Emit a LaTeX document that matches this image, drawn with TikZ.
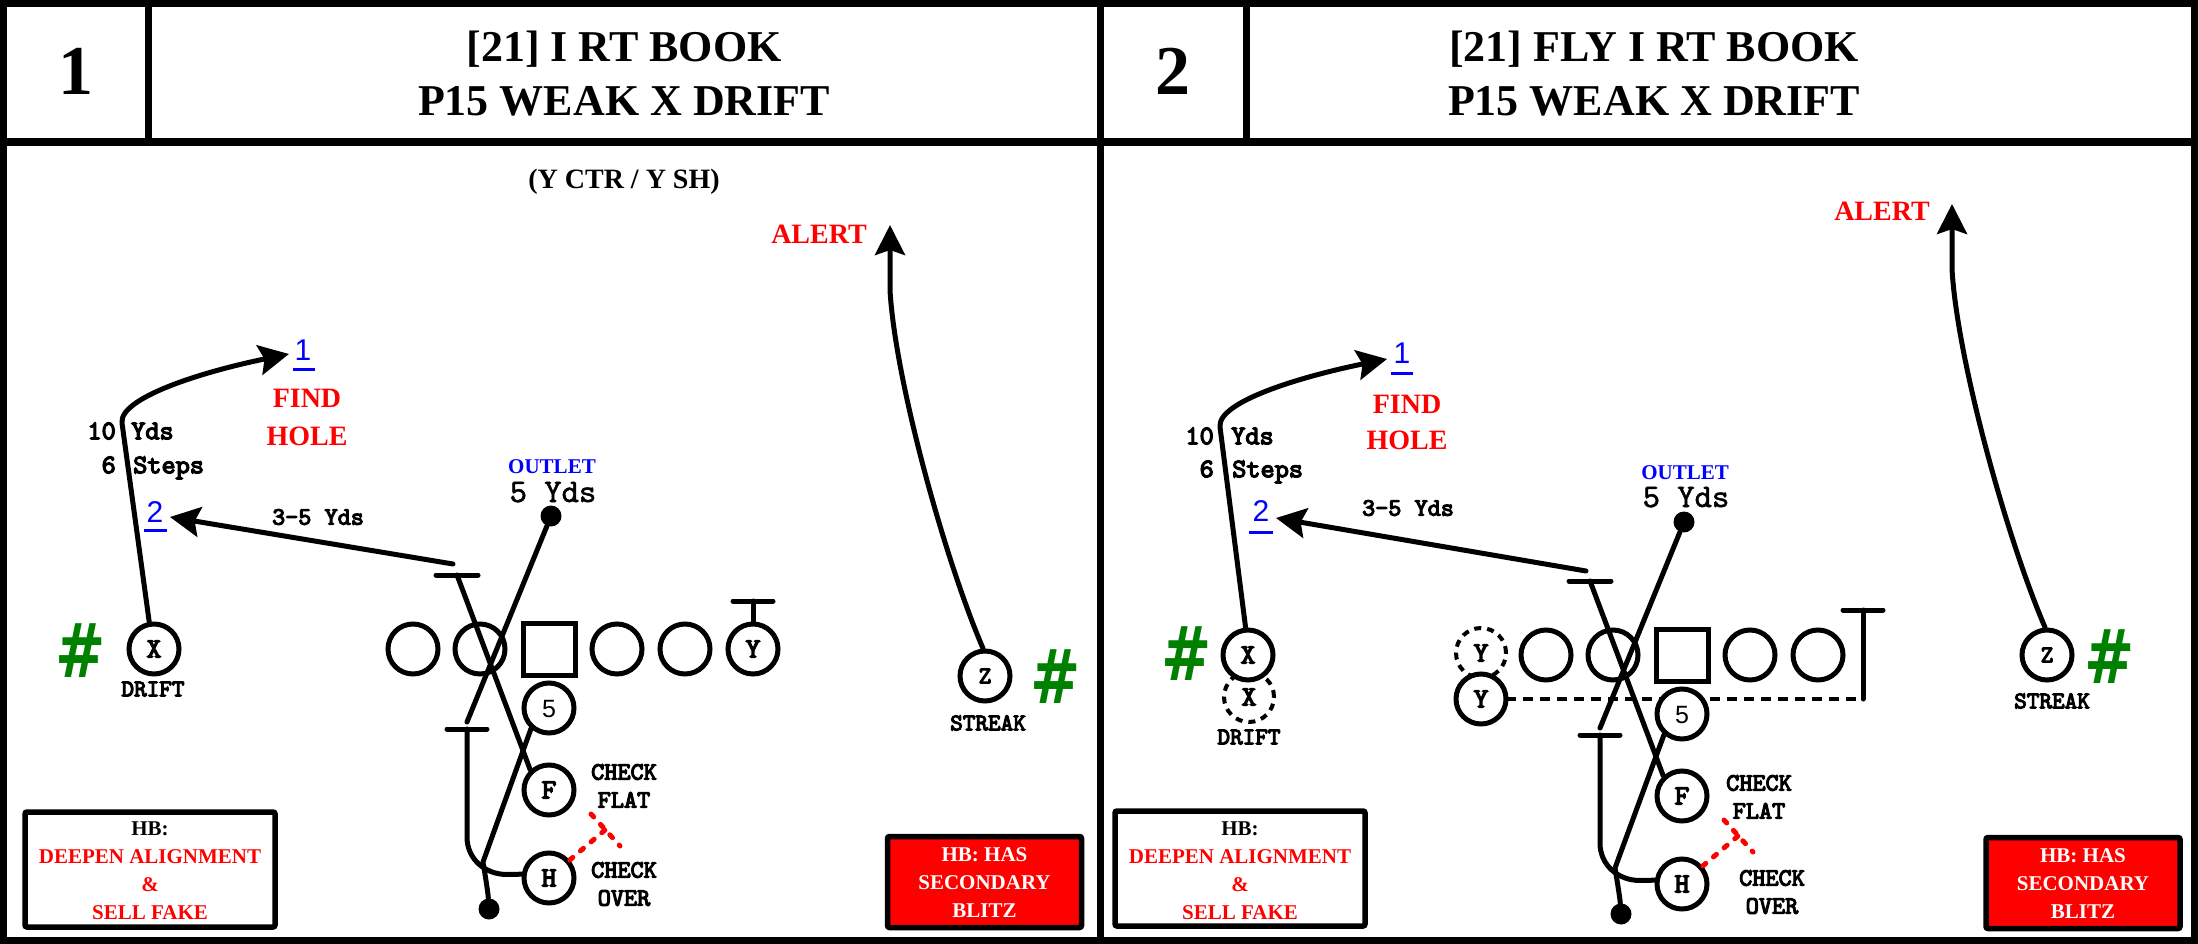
\documentclass[tikz,border=0pt]{standalone}
\usepackage{fontspec}
\usepackage{graphicx}
\setmainfont{Liberation Serif}
\newfontfamily\sansf{Liberation Sans}
\newfontfamily\hashf{DejaVu Sans}
\newfontfamily\monob[FakeBold=4.5]{lmmono10-regular.otf}
\newfontfamily\monom[FakeBold=1.5]{lmmono10-regular.otf}
\usetikzlibrary{arrows.meta}
\definecolor{hgreen}{RGB}{0,128,0}
\definecolor{hred}{RGB}{255,0,0}
\definecolor{hblue}{RGB}{0,0,255}
\newcommand{\fsz}[1]{\fontsize{#1}{#1}\selectfont}
\newcommand{\hashmark}{\scalebox{0.8}[1]{\#}}
\tikzset{
  plyr/.style={circle, draw, line width=5pt, fill=white, minimum size=50pt, inner sep=0pt, font=\monob\fsz{28}, text height=17pt, text depth=0pt},
  dplyr/.style={plyr, line width=4pt, dash pattern=on 7pt off 6pt},
  oline/.style={circle, draw, line width=5pt, fill=white, minimum size=50pt, inner sep=0pt},
  ctrsq/.style={rectangle, draw, line width=5pt, fill=white, minimum size=52pt, inner sep=0pt},
  qbst/.style={plyr, font=\sansf\fsz{25}, text height=18pt},
  zst/.style={plyr, font=\monob\fsz{24}, text height=14.6pt},
  dotst/.style={circle, fill=black, minimum size=21pt, inner sep=0pt},
  route/.style={line width=5pt, line cap=round, line join=round},
  arr/.style={-{Stealth[length=30pt,width=30pt,inset=5pt]}},
  motion/.style={line width=4.5pt, dash pattern=on 10pt off 7pt},
  reddash/.style={line width=5pt, hred, line cap=round, dash pattern=on 4pt off 10pt},
  tbar/.style={line width=5pt, line cap=round},
  ttl/.style={inner sep=0pt, font=\bfseries\fsz{44}, text height=29pt, text depth=0pt},
  hnum/.style={inner sep=0pt, font=\bfseries\fsz{70}, text height=47pt, text depth=0pt},
  sbig/.style={inner sep=0pt, font=\bfseries\fsz{28}, text height=18.5pt, text depth=0pt},
  ssm/.style={inner sep=0pt, font=\bfseries\fsz{21}, text height=14pt, text depth=0pt},
  mlab/.style={inner sep=0pt, font=\monob\fsz{25}, text height=15.3pt, text depth=0pt},
  mmid/.style={inner sep=0pt, font=\monob\fsz{27}, text height=16.5pt, text depth=0pt},
  msm/.style={inner sep=0pt, font=\monob\fsz{24}, text height=14.6pt, text depth=0pt},
  myds/.style={inner sep=0pt, font=\monom\fsz{33}, text height=20pt, text depth=0pt},
  bnum/.style={inner sep=0pt, font=\sansf\fsz{30}, text height=21.5pt, text depth=0pt, text=hblue},
  hashst/.style={inner sep=0pt, font=\hashf\bfseries\fsz{75}, text height=54pt, text depth=0pt, text=hgreen},
  wbox/.style={draw, line width=5.5pt, fill=white, rounded corners=2pt, minimum width=250pt, minimum height=115pt, inner sep=0pt},
  rbox/.style={draw, line width=5.5pt, fill=hred, rounded corners=2pt, minimum width=194pt, minimum height=91pt, inner sep=0pt},
  uline/.style={hblue, line width=3pt}
}
\begin{document}
\begin{tikzpicture}[x=1pt, y=-1pt]
\useasboundingbox (0,0) rectangle (2198,944);
\fill[white] (0,0) rectangle (2198,944);
% ---------- frame ----------
\draw[line width=7pt] (3.5,3.5) rectangle (2194.5,940.5);
\draw[line width=8pt] (0,142) -- (2198,142);
\draw[line width=7pt] (1100,0) -- (1100,944);
\draw[line width=7pt] (148,0) -- (148,142);
\draw[line width=7pt] (1246,0) -- (1246,142);
% ---------- headers ----------
\node[hnum] (num1) at (76,71) {1};
\node[ttl] (t1a) at (624,47) {[21] I RT BOOK};
\node[ttl] (t1b) at (624,101) {P15 WEAK X DRIFT};
\node[hnum] (num2) at (1173,71) {2};
\node[ttl] (t2a) at (1654,47) {[21] FLY I RT BOOK};
\node[ttl] (t2b) at (1654,101) {P15 WEAK X DRIFT};

% ================= PANEL 1 =================
\node[sbig] (ysh) at (624,179) {(Y CTR / Y SH)};
\node[oline] (l1) at (413,649) {};
\node[oline] (l2) at (480,649) {};
\node[ctrsq] (c1) at (549,649) {};
\node[oline] (l4) at (617,649) {};
\node[oline] (l5) at (685,649) {};
\node[plyr] (y1) at (753,649) {Y};
\node[qbst] (qb1) at (549,708) {5};
\node[plyr] (f1) at (549,790) {F};
\node[plyr] (h1) at (549,878) {H};
\node[plyr] (x1) at (154,649) {X};
\node[zst] (z1) at (985,676) {Z};
\node[dotst] (da1) at (551,516) {};
\node[dotst] (db1) at (489,909) {};

% X route
\coordinate (xb1) at (122,423);
\coordinate (xe1) at (289,354);
\draw[route,arr] (x1.100) -- (xb1) .. controls (119,398) and (201,372) .. (xe1);
% 3-5 yds arrow
\coordinate (as1) at (453,564);
\coordinate (ae1) at (170,517);
\draw[route,arr] (as1) -- (ae1);
% F route
\coordinate (fT1) at (457,575);
\draw[route] (fT1) -- (f1.133);
\draw[tbar] ([xshift=-21pt]fT1) -- ([xshift=21pt]fT1);
% H route
\coordinate (hT1) at (467,729);
\coordinate (hc1) at (467,837);
\draw[route] (h1.172) -- (507,874.5) .. controls (485,874.5) and (467,859) .. (hc1) -- (hT1);
\draw[tbar] ([xshift=-20pt]hT1) -- ([xshift=20pt]hT1);
% outlet line
\coordinate (dl1) at (467,722);
\draw[route] (da1) -- (dl1);
% QB line
\coordinate (qk1) at (483,862);
\draw[route] (qb1.229) -- (qk1) .. controls (486,880) and (488,893) .. (db1);
% Y block
\coordinate (yT1) at (753,601);
\draw[route] (y1.north) -- (yT1);
\draw[tbar] ([xshift=-20pt]yT1) -- ([xshift=20pt]yT1);
% red check
\coordinate (rs1) at (605,830);
\coordinate (ra1) at (591,814);
\coordinate (rb1) at (620,846);
\draw[reddash] (h1.41) -- (rs1);
\draw[reddash] (ra1) -- (rb1);
% Z route
\coordinate (zb1) at (890,290);
\coordinate (ze1) at (890,225);
\draw[route,arr] (z1.94) .. controls (945,560) and (895,380) .. (zb1) -- (ze1);

% labels panel 1
\node[hashst] (hs1) at (81,650) {\hashmark};
\node[msm] (dr1) at (153,689) {DRIFT};
\node[bnum] (n11) at (303,350) {1};
\draw[uline] ([xshift=-10pt,yshift=-19pt]n11.center) -- ([xshift=12pt,yshift=-19pt]n11.center);
\node[sbig, text=hred] (fd1) at (307,398) {FIND};
\node[sbig, text=hred] (hl1) at (307,436) {HOLE};
\node[mmid, anchor=east] (ten1) at (116,431) {10};
\node[mmid, anchor=west] (yd1) at (131,431) {Yds};
\node[mmid, anchor=east] (six1) at (116,465) {6};
\node[mmid, anchor=west] (st1) at (133,465) {Steps};
\node[bnum] (n21) at (155,512) {2};
\draw[uline] ([xshift=-11pt,yshift=-18pt]n21.center) -- ([xshift=12pt,yshift=-18pt]n21.center);
\node[mlab] (ty1) at (318,517) {3-5 Yds};
\node[ssm, text=hblue] (ou1) at (552,466) {OUTLET};
\node[myds] (fy1) at (553,492) {5 Yds};
\node[mlab] (ck1) at (624,772) {CHECK};
\node[mlab] (fl1) at (624,800) {FLAT};
\node[mlab] (ck2) at (624,870) {CHECK};
\node[mlab] (ov1) at (624,898) {OVER};
\node[sbig, text=hred] (al1) at (819,234) {ALERT};
\node[msm] (sk1) at (988,723) {STREAK};
\node[hashst] (hz1) at (1056,676) {\hashmark};
% boxes panel 1
\node[wbox] (wb1) at (150,869.5) {};
\node[ssm] (wb1a) at (150,828) {HB:};
\node[ssm, text=hred] (wb1b) at (150,856) {DEEPEN ALIGNMENT};
\node[ssm, text=hred] (wb1c) at (150,884) {\&};
\node[ssm, text=hred] (wb1d) at (150,912) {SELL FAKE};
\node[rbox] (rb1x) at (984.5,882) {};
\node[ssm, text=white] (rb1a) at (984.5,854) {HB: HAS};
\node[ssm, text=white] (rb1b) at (984.5,882) {SECONDARY};
\node[ssm, text=white] (rb1c) at (984.5,910) {BLITZ};

% ================= PANEL 2 =================
% Y motion (behind players)
\coordinate (ym2) at (1863,699);
\coordinate (yT2) at (1863,610);
\draw[motion] (1506,699) -- (ym2);
\node[dplyr] (yd2) at (1481,653) {Y};
\node[plyr] (y2) at (1481,699) {Y};
\node[oline] (m1) at (1546,655) {};
\node[oline] (m2) at (1613,655) {};
\node[ctrsq] (c2) at (1682,655) {};
\node[oline] (m4) at (1750,655) {};
\node[oline] (m5) at (1818,655) {};
\node[qbst] (qb2) at (1682,714) {5};
\node[plyr] (f2) at (1682,796) {F};
\node[plyr] (h2) at (1682,884) {H};
\node[dplyr] (xd2) at (1249,697) {X};
\node[plyr] (x2) at (1248,655) {X};
\node[zst] (z2) at (2047,655) {Z};
\node[dotst] (da2) at (1684,522) {};
\node[dotst] (db2) at (1621,914) {};

\draw[route] (ym2) -- (yT2);
\draw[tbar] ([xshift=-20pt]yT2) -- ([xshift=20pt]yT2);
% X route
\coordinate (xb2) at (1220,427);
\coordinate (xe2) at (1387,359);
\draw[route,arr] (x2.95) -- (xb2) .. controls (1217,402) and (1299,377) .. (xe2);
% 3-5 yds arrow
\coordinate (as2) at (1586,571);
\coordinate (ae2) at (1276,518);
\draw[route,arr] (as2) -- (ae2);
% F route
\coordinate (fT2) at (1590,581);
\draw[route] (fT2) -- (f2.133);
\draw[tbar] ([xshift=-21pt]fT2) -- ([xshift=21pt]fT2);
% H route
\coordinate (hT2) at (1600,735);
\coordinate (hc2) at (1600,843);
\draw[route] (h2.172) -- (1640,880.5) .. controls (1618,880.5) and (1600,865) .. (hc2) -- (hT2);
\draw[tbar] ([xshift=-20pt]hT2) -- ([xshift=20pt]hT2);
% outlet line
\coordinate (dl2) at (1600,728);
\draw[route] (da2) -- (dl2);
% QB line
\coordinate (qk2) at (1615,868);
\draw[route] (qb2.229) -- (qk2) .. controls (1618,886) and (1620,899) .. (db2);
% red check
\coordinate (rs2) at (1738,836);
\coordinate (ra2) at (1724,820);
\coordinate (rb2) at (1753,852);
\draw[reddash] (h2.41) -- (rs2);
\draw[reddash] (ra2) -- (rb2);
% Z route
\coordinate (zb2) at (1952,269);
\coordinate (ze2) at (1952,204);
\draw[route,arr] (z2.94) .. controls (2007,539) and (1957,359) .. (zb2) -- (ze2);

% labels panel 2
\node[hashst] (hs2) at (1187,653) {\hashmark};
\node[msm] (dr2) at (1249,737) {DRIFT};
\node[bnum] (n12) at (1402,353) {1};
\draw[uline] ([xshift=-11pt,yshift=-20pt]n12.center) -- ([xshift=11pt,yshift=-20pt]n12.center);
\node[sbig, text=hred] (fd2) at (1407,404) {FIND};
\node[sbig, text=hred] (hl2) at (1407,440) {HOLE};
\node[mmid, anchor=east] (ten2) at (1214,436) {10};
\node[mmid, anchor=west] (yd2t) at (1231,436) {Yds};
\node[mmid, anchor=east] (six2) at (1214,469) {6};
\node[mmid, anchor=west] (st2) at (1232,469) {Steps};
\node[bnum] (n22) at (1261,511) {2};
\draw[uline] ([xshift=-12pt,yshift=-21pt]n22.center) -- ([xshift=12pt,yshift=-21pt]n22.center);
\node[mlab] (ty2) at (1408,508) {3-5 Yds};
\node[ssm, text=hblue] (ou2) at (1685,472) {OUTLET};
\node[myds] (fy2) at (1686,497) {5 Yds};
\node[mlab] (ck3) at (1759,783) {CHECK};
\node[mlab] (fl2) at (1759,811) {FLAT};
\node[mlab] (ck4) at (1772,878) {CHECK};
\node[mlab] (ov2) at (1772,906) {OVER};
\node[sbig, text=hred] (al2) at (1882,211) {ALERT};
\node[msm] (sk2) at (2052,701) {STREAK};
\node[hashst] (hz2) at (2110,656) {\hashmark};
% boxes panel 2
\node[wbox] (wb2) at (1240,868.5) {};
\node[ssm] (wb2a) at (1240,828) {HB:};
\node[ssm, text=hred] (wb2b) at (1240,856) {DEEPEN ALIGNMENT};
\node[ssm, text=hred] (wb2c) at (1240,884) {\&};
\node[ssm, text=hred] (wb2d) at (1240,912) {SELL FAKE};
\node[rbox] (rb2x) at (2083,883) {};
\node[ssm, text=white] (rb2a) at (2083,855) {HB: HAS};
\node[ssm, text=white] (rb2b) at (2083,883) {SECONDARY};
\node[ssm, text=white] (rb2c) at (2083,911) {BLITZ};
\end{tikzpicture}
\end{document}
